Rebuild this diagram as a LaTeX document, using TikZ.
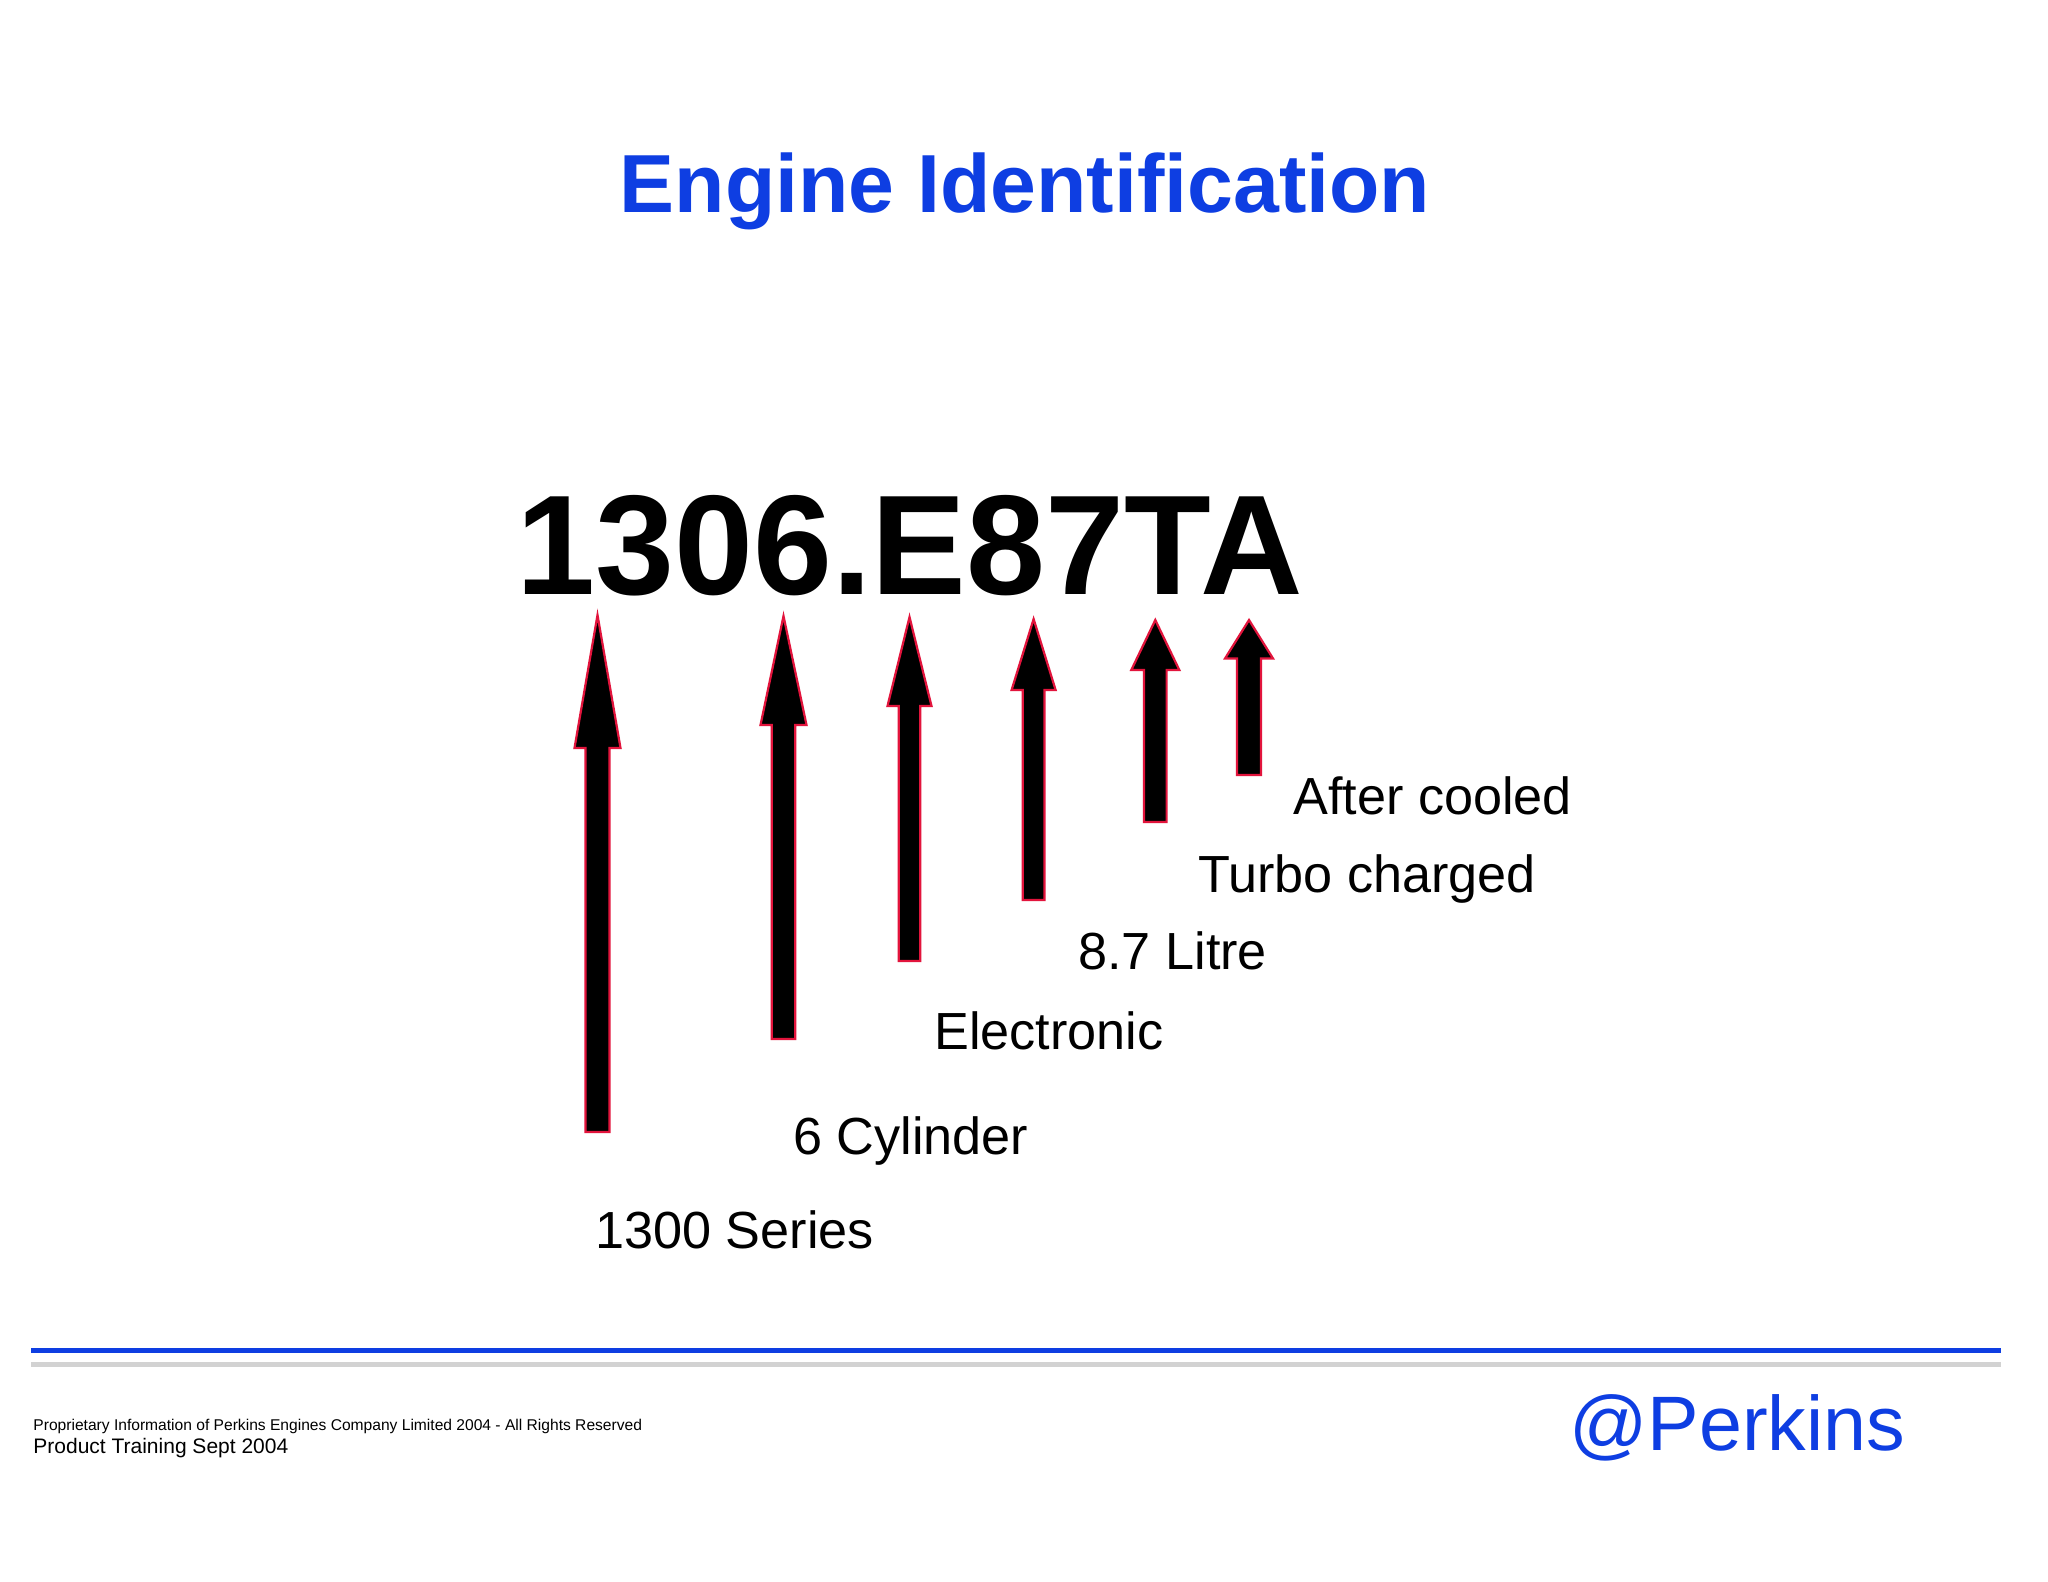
\documentclass[tikz,border=0pt]{standalone}
\usepackage{fontspec}
\setmainfont{Liberation Sans}
\definecolor{pblue}{RGB}{14,62,226}
\definecolor{pred}{RGB}{226,20,60}
\definecolor{pgray}{RGB}{210,210,210}
\newcommand{\uparr}[7]{%
  % name, cx, tip, headbase, bottom, headhalf, shafthalf
  \coordinate (#1) at (#2,#3);
  \draw[arr] (#2,#3) -- (#2+#6,#4) -- (#2+#7,#4) -- (#2+#7,#5) -- (#2-#7,#5) -- (#2-#7,#4) -- (#2-#6,#4) -- cycle;}
\begin{document}
\begin{tikzpicture}[x=0.5pt,y=-0.5pt,
  arr/.style={fill=black,draw=pred,line width=1.1pt,line join=miter},
  lbl/.style={anchor=base west,inner sep=0pt,font=\fontsize{26.1}{30}\selectfont},
  ]
\useasboundingbox[fill=white] (0,0) rectangle (2048,1582);
\node[anchor=base,inner sep=0pt,text=pblue,font=\fontsize{41.2}{48}\selectfont\bfseries] (title) at (1025,213) {Engine Identification};
\node[anchor=base,inner sep=0pt,font=\fontsize{71}{80}\selectfont\bfseries] (code) at (910,595) {1306.E87TA};
\uparr{a1}{597.5}{615}{748}{1132}{23}{12}
\uparr{a2}{783.5}{616}{725}{1039}{23}{11.7}
\uparr{a3}{909.5}{617}{706}{961}{22}{10.8}
\uparr{a4}{1033.6}{619}{690}{900}{22}{10.8}
\uparr{a5}{1155.3}{620}{670}{822}{24}{11.3}
\uparr{a6}{1249}{620}{658.5}{775}{24}{12}
\node[lbl] (l6) at (1293,814) {After cooled};
\node[lbl] (l5) at (1198,892) {Turbo charged};
\node[lbl] (l4) at (1078,969) {8.7 Litre};
\node[lbl] (l3) at (934,1049) {Electronic};
\node[lbl] (l2) at (793,1154) {6 Cylinder};
\node[lbl] (l1) at (595,1248.5) {1300 Series};
\draw[pblue,line width=2.5pt] (31,1350) coordinate (bl1) -- (2001,1350) coordinate (bl2);
\draw[pgray,line width=2.3pt] (31,1364.5) coordinate (gl1) -- (2001,1364.5) coordinate (gl2);
\node[anchor=base west,inner sep=0pt,font=\fontsize{7.8}{9}\selectfont] (prop) at (33,1430) {Proprietary Information of Perkins Engines Company Limited 2004 - All Rights Reserved};
\node[anchor=base west,inner sep=0pt,font=\fontsize{10.5}{12}\selectfont] (prod) at (33,1453) {Product Training Sept 2004};
\node[anchor=base west,inner sep=0pt,text=pblue,font=\fontsize{38.6}{44}\selectfont] (perk) at (1569,1450) {@Perkins};
\end{tikzpicture}
\end{document}
